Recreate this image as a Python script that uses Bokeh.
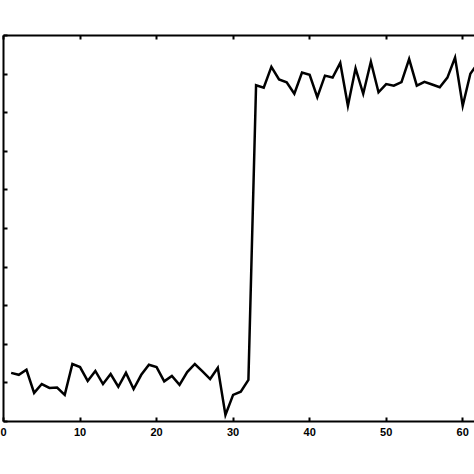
from bokeh.plotting import figure
from bokeh.models import LinearAxis, Range1d, FixedTicker, CustomLabelingPolicy
from bokeh.embed import file_html
from bokeh.resources import INLINE

x_values = list(range(1, 63))
y_values = [
    1.26, 1.21, 1.34, 0.74, 0.97, 0.87, 0.88, 0.69, 1.49, 1.41,
    1.05, 1.31, 0.97, 1.23, 0.90, 1.26, 0.84, 1.21, 1.47, 1.41,
    1.04, 1.18, 0.95, 1.28, 1.49, 1.30, 1.10, 1.39, 0.17, 0.69,
    0.77, 1.08, 8.71, 8.65, 9.19, 8.86, 8.79, 8.49, 9.04, 8.98,
    8.40, 8.96, 8.91, 9.29, 8.18, 9.15, 8.49, 9.32, 8.53, 8.74,
    8.70, 8.79, 9.39, 8.70, 8.80, 8.73, 8.66, 8.91, 9.43, 8.18,
    9.01, 9.29,
]
x_ticks = [0, 10, 20, 30, 40, 50, 60]
y_ticks = [0, 1, 2, 3, 4, 5, 6, 7, 8, 9, 10]

p = figure(width=479, height=441, output_backend="svg", toolbar_location=None,
           x_range=Range1d(0, 61.54), y_range=Range1d(0, 10),
           x_axis_location=None, y_axis_location=None,
           min_border_left=8, min_border_right=0, min_border_top=35, min_border_bottom=20,
           margin=(0, 0, 0, -5))
p.outline_line_color = None
p.xgrid.visible = False
p.ygrid.visible = False
p.background_fill_color = "white"
p.border_fill_color = "white"

no_labels = CustomLabelingPolicy(code="for (const i of indices) indices.unset(i); return indices")

def style(ax, labels):
    ax.axis_line_width = 2
    ax.axis_line_color = "black"
    ax.major_tick_line_width = 2
    ax.major_tick_line_color = "black"
    ax.major_tick_in = 4
    ax.major_tick_out = 0
    ax.minor_tick_line_color = None
    if labels:
        ax.major_label_text_font = "Liberation Sans"
        ax.major_label_text_font_style = "bold"
        ax.major_label_text_font_size = "11px"
        ax.major_label_text_color = "black"
        ax.major_label_standoff = 6
    else:
        ax.major_label_text_font_size = "1px"
        ax.major_label_standoff = 0
        ax.major_label_policy = no_labels

bottom = LinearAxis(ticker=FixedTicker(ticks=x_ticks))
style(bottom, True)
p.add_layout(bottom, "below")

top = LinearAxis(ticker=FixedTicker(ticks=x_ticks))
style(top, False)
p.add_layout(top, "above")

left = LinearAxis(ticker=FixedTicker(ticks=y_ticks))
style(left, False)
p.add_layout(left, "left")

p.line(x_values, y_values, line_color="black", line_width=2.5, line_join="miter")

open("out.html", "w").write(file_html(p, INLINE))
